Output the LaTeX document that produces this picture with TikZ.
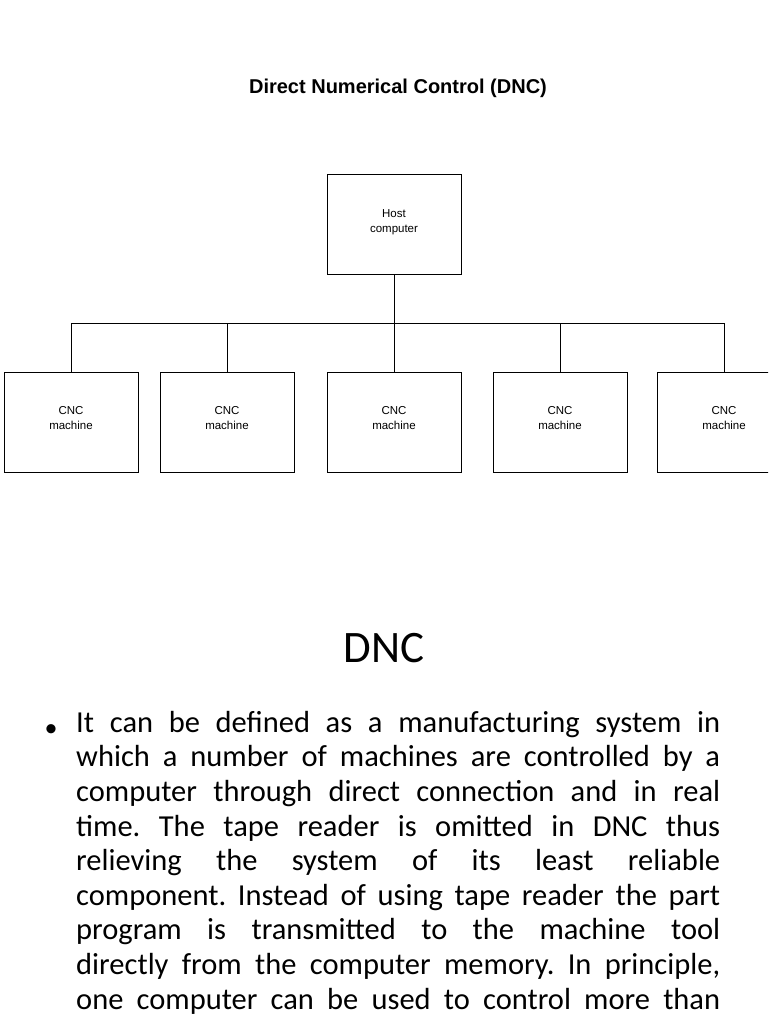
\documentclass[tikz,border=0pt]{standalone}
\usepackage{fontspec}
\setmainfont{Carlito}
\newfontfamily\arl{Liberation Sans}
\begin{document}
\begin{tikzpicture}[x=1pt,y=-1pt,
  box/.style={draw,line width=0.8pt,minimum width=134pt,minimum height=100pt,inner sep=0pt},
  lab/.style={font=\arl\fontsize{11.5}{15}\selectfont,align=center},
  wire/.style={line width=0.8pt}]
\useasboundingbox (0,0) rectangle (768,1024);
\clip (0,0) rectangle (768,1024);
\node[font=\arl\bfseries\fontsize{20}{24}\selectfont] (title) at (398,88) {Direct Numerical Control (DNC)};
\node[box] (host) at (394,224) {};
\node[lab] (hostt) at (394,222) {Host\\computer};
\coordinate (bus) at (394,323);
\foreach \n/\x in {1/71,2/227,3/394,4/560,5/724}{
  \node[box] (m\n) at (\x,422) {};
  \node[lab] (mt\n) at (\x,418) {CNC\\machine};
  \coordinate (d\n) at (\x,323);
}
\draw[wire] (host.south) -- (bus);
\draw[wire] (d1) -- (d5);
\foreach \n in {1,...,5}{\draw[wire] (d\n) -- (m\n.north);}
\node[font=\fontsize{45}{48}\selectfont] (dnc) at (384,648) {DNC};
\node[font=\fontsize{26}{30}\selectfont] (bul) at (51,731) {•};
\node[anchor=north west,inner sep=0pt,text width=644pt,align=justify,font=\fontsize{30.5}{34.6}\selectfont\frenchspacing] (body) at (76,711) {It can be defined as a manufacturing system in\linebreak which a number of machines are controlled by a\linebreak computer through direct connection and in real\linebreak time. The tape reader is omitted in DNC thus\linebreak relieving the system of its least reliable\linebreak component. Instead of using tape reader the part\linebreak program is transmitted to the machine tool\linebreak directly from the computer memory. In principle,\linebreak \makebox[\linewidth][s]{one computer can be used to control more than}};
\end{tikzpicture}
\end{document}
